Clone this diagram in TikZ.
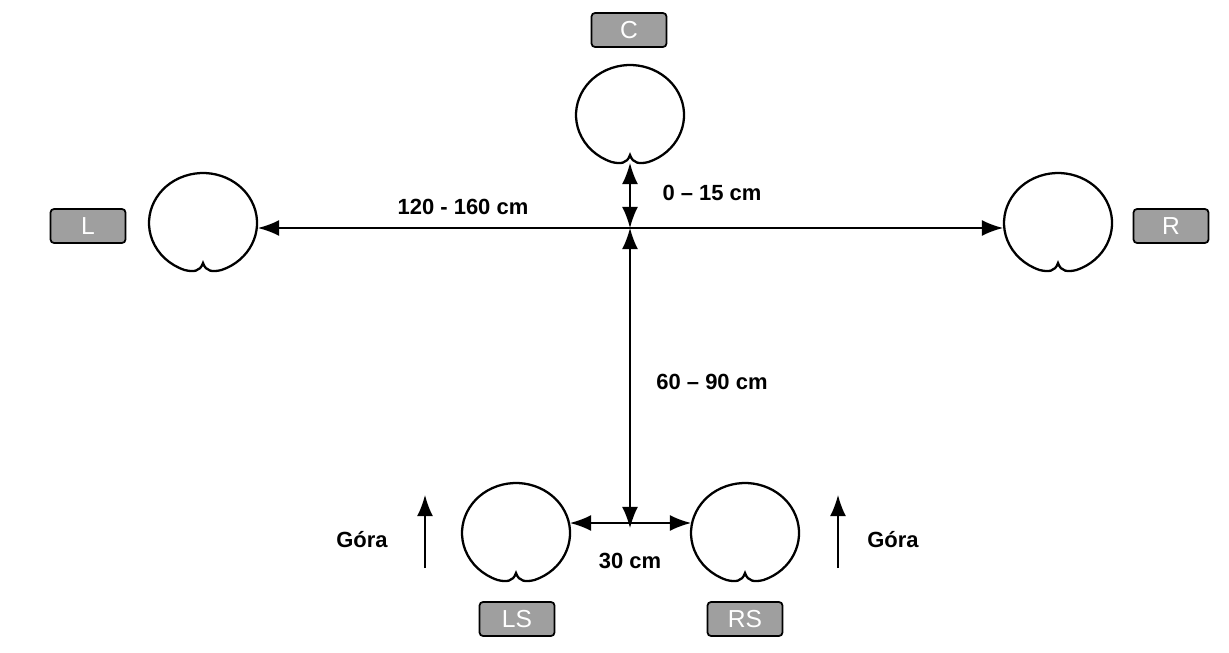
\documentclass[tikz,border=0pt]{standalone}
\usepackage{fontspec}
\setmainfont{Liberation Sans}
\usetikzlibrary{arrows.meta}
\begin{document}
\begin{tikzpicture}[x=0.02cm,y=-0.02cm,
  spk/.pic={\begin{scope}[y=0.02cm]\draw[line width=1.3pt,fill=white] (18.5,-47) arc[start angle=-70,end angle=250,x radius=54,y radius=50] .. controls (-10,-49) and (-3,-49) .. (0,-40) .. controls (3,-49) and (10,-49) .. (18.5,-47);\end{scope}},
  tag/.style={draw=black,line width=1pt,fill=gray!75,rounded corners=2pt,minimum width=1.5cm,minimum height=0.68cm,text=white,font=\fontsize{14}{16}\selectfont,inner sep=0pt},
  dim/.style={font=\bfseries\fontsize{12.5}{15}\selectfont},
  arr/.style={line width=0.8pt,-{Latex[length=12pt,width=9pt]}},
  darr/.style={line width=0.8pt,{Latex[length=12pt,width=9pt]}-{Latex[length=12pt,width=9pt]}}]
\useasboundingbox (0,0) rectangle (1229,652);
\pic at (630,115) {spk};
\pic at (203,223) {spk};
\pic at (1058,223) {spk};
\pic at (516,533) {spk};
\pic at (745,533) {spk};
\coordinate (Cb) at (630,163);
\coordinate (Lr) at (258,228);
\coordinate (Rl) at (1003,228);
\coordinate (M) at (630,228);
\coordinate (B) at (630,528);
\coordinate (LSr) at (570,523);
\coordinate (RSl) at (691,523);
\coordinate (g1a) at (425,568); \coordinate (g1b) at (425,495);
\coordinate (g2a) at (838,568); \coordinate (g2b) at (838,495);
\node[tag] (tC) at (629,30) {C};
\node[tag] (tL) at (88,226) {L};
\node[tag] (tR) at (1171,226) {R};
\node[tag] (tLS) at (517,619) {LS};
\node[tag] (tRS) at (745,619) {RS};
\draw[darr] (Lr) -- (Rl);
\draw[darr] (Cb) -- (M);
\draw[darr] (M) -- (B);
\draw[darr] (LSr) -- (RSl);
\draw[arr] (g1a) -- (g1b);
\draw[arr] (g2a) -- (g2b);
\node[dim] (d1) at (463,207) {120 - 160 cm};
\node[dim] (d2) at (712,193) {0 – 15 cm};
\node[dim] (d3) at (712,382) {60 – 90 cm};
\node[dim] (d4) at (630,561) {30 cm};
\node[dim] (g1) at (362,540) {Góra};
\node[dim] (g2) at (893,540) {Góra};
\end{tikzpicture}
\end{document}
